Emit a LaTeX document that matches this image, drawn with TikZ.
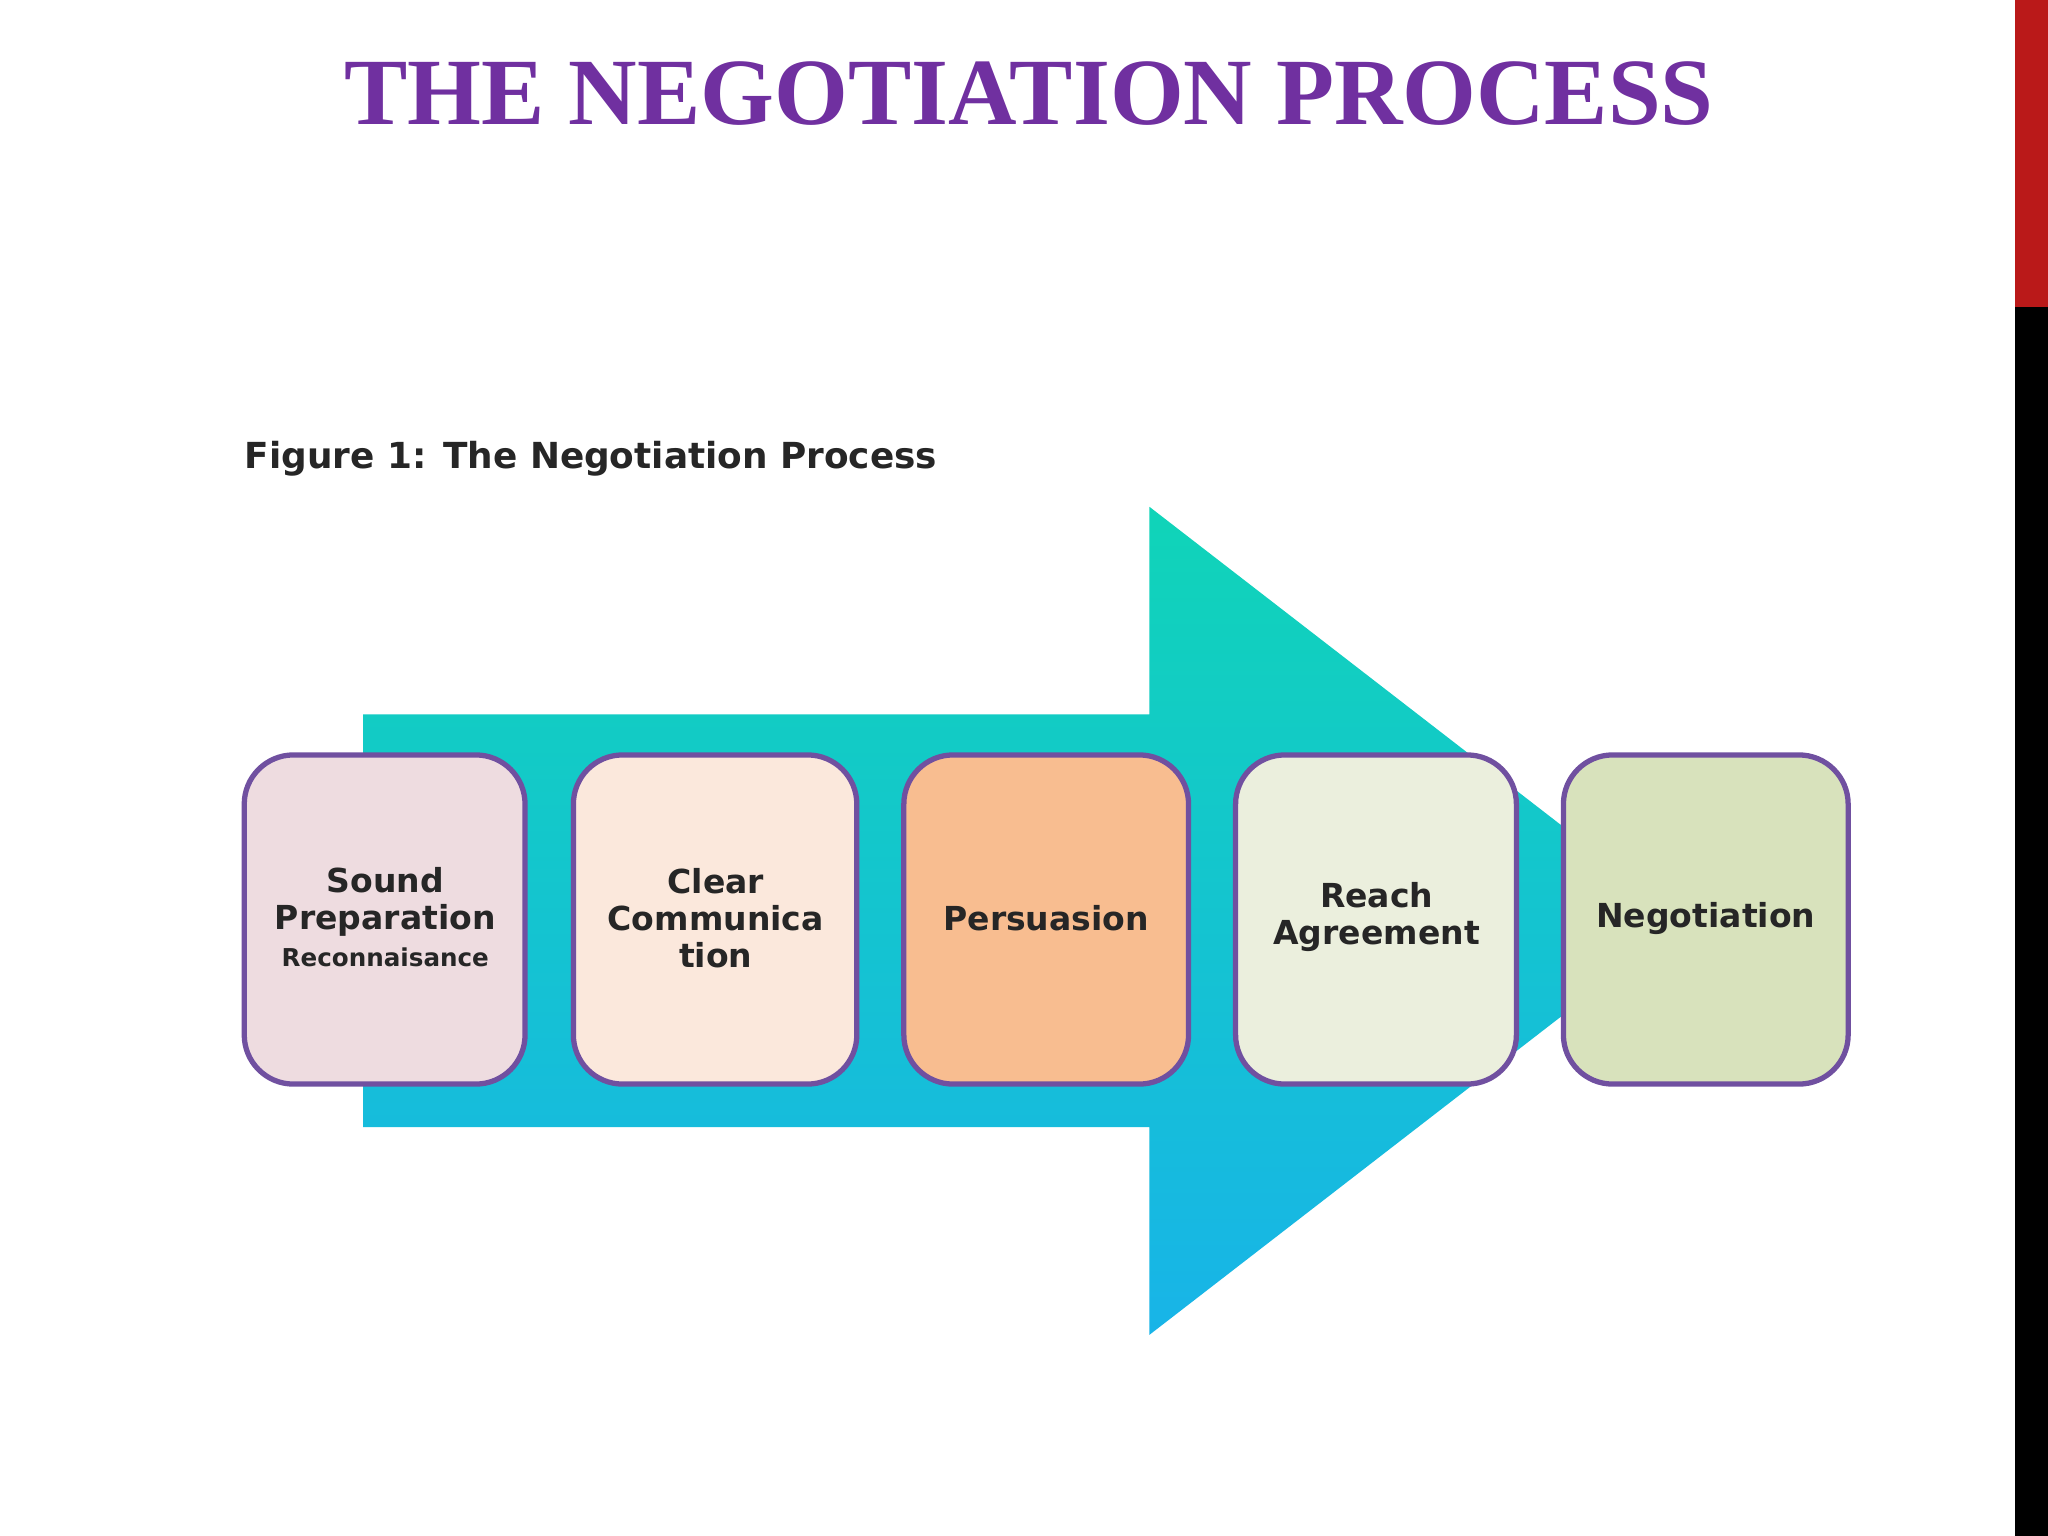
\documentclass[tikz,border=0pt]{standalone}
\usepackage{fontspec}
\setmainfont{Liberation Serif}
\newfontfamily\boxfont{DejaVu Sans}
\begin{document}
\begin{tikzpicture}[x=0.01306cm,y=-0.01306cm,
  lbl/.style={font=\boxfont\bfseries\fontsize{9.4}{10.6}\selectfont,align=center,text=black!85}]
\definecolor{ttl}{HTML}{7030A0}
\definecolor{bd}{HTML}{7050A0}
\definecolor{atop}{HTML}{10D4B8}
\definecolor{abot}{HTML}{18B4E8}
\useasboundingbox (0,0) rectangle (1568,1176);
\fill[white] (0,0) rectangle (1568,1176);
\fill[red!70!black!90!white] (1543,0) rectangle (1568,235);
\fill[black] (1543,235) rectangle (1568,1176);
\node[font=\bfseries\fontsize{27}{30}\selectfont,text=ttl] (title) at (788,72) {THE NEGOTIATION PROCESS};
\node[font=\boxfont\bfseries\fontsize{10.2}{11}\selectfont,anchor=west,text=black!85] (cap) at (178,351) {Figure 1: The Negotiation Process};
\shade[top color=atop,bottom color=abot]
  (278,547) -- (880,547) -- (880,388) -- (1290,705) -- (880,1022) -- (880,863) -- (278,863) -- cycle;
\foreach \n/\xa/\xb/\c in {a/187/402/EEDCE0,b/439/656/FBE8DC,c/692/910/F8BD90,d/946/1161/EBEFDD,e/1197/1415/D8E2BC}{
  \definecolor{f\n}{HTML}{\c}
  \draw[fill=f\n,draw=bd,line width=1.5pt,rounded corners=14pt] (\xa,578) rectangle (\xb,830);
  \coordinate (\n) at ({(\xa+\xb)/2},704);
}
\node[lbl] (ta) at (295,702) {Sound\\Preparation\\{\fontsize{7}{8}\selectfont Reconnaisance}};
\node[lbl] (tb) at (548,703) {Clear\\Communica\\tion};
\node[lbl] (tc) at (801,703) {Persuasion};
\node[lbl] (td) at (1054,702) {Reach\\Agreement};
\node[lbl] (te) at (1306,703) {Negotiation};
\end{tikzpicture}
\end{document}
